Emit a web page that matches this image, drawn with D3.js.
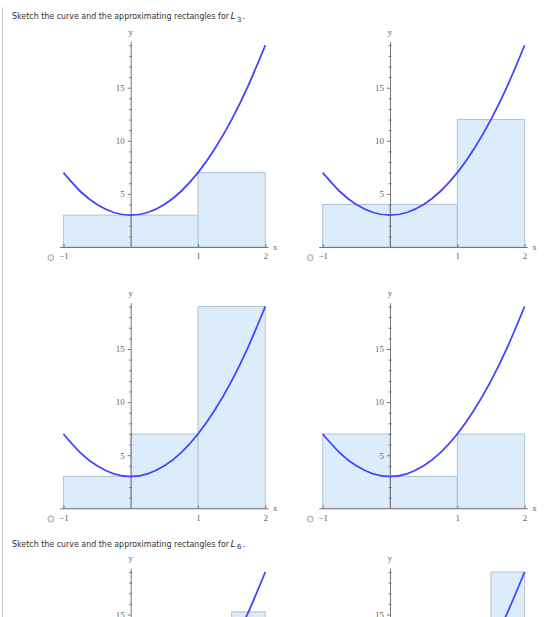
<!DOCTYPE html>
<html>
<head>
<meta charset="utf-8">
<script src="https://cdn.jsdelivr.net/npm/d3@7"></script>
<style>
  body { margin: 0; background: #fff; }
  svg { display: block; }
  .tick text { font-family: "Liberation Serif", "DejaVu Serif", serif; font-size: 9px; fill: #666; }
  .axis path, .axis line { stroke: #777; }
</style>
</head>
<body>
<svg id="chart"></svg>
<script>
// curve, x step 0.25
const curveX = [-1, -0.75, -0.5, -0.25, 0, 0.25, 0.5, 0.75, 1, 1.25, 1.5, 1.75, 2];
const curveY = [7, 5.25, 4, 3.25, 3, 3.25, 4, 5.25, 7, 9.25, 12, 15.25, 19];

const xTicks = [-1, 1, 2];
const yTicks = [5, 10, 15];
const yMinor = [1, 2, 3, 4, 6, 7, 8, 9, 11, 12, 13, 14, 16, 17, 18, 19];

// L3 : 3 rectangles
const edges3 = [-1, 0, 1, 2];
const heightsA = [3, 3, 7];
const heightsB = [4, 4, 12];
const heightsC = [3, 7, 19];
const heightsD = [7, 3, 7];

// L6 : 6 rectangles (only the tops show)
const edges6 = [-1, -0.5, 0, 0.5, 1, 1.5, 2];
const heightsE = [5.25, 3.25, 3.25, 5.25, 9.25, 15.25];
const heightsF = [4, 3, 4, 7, 12, 19];

const headers = [
  { y: 19, sub: "3" },
  { y: 546.5, sub: "6" }
];

const WIDTH = 550, HEIGHT = 617;
const UX = 67.3;     // px per x unit
const UY = 10.62;    // px per y unit
const COLS = [130.7, 390];
const panels = [
  { col: 0, y0: 247, edges: edges3, h: heightsA },
  { col: 1, y0: 247, edges: edges3, h: heightsB },
  { col: 0, y0: 508.3, edges: edges3, h: heightsC },
  { col: 1, y0: 508.3, edges: edges3, h: heightsD },
  { col: 0, y0: 773.8, edges: edges6, h: heightsE },
  { col: 1, y0: 773.8, edges: edges6, h: heightsF }
];

const svg = d3.select("#chart")
  .attr("width", WIDTH)
  .attr("height", HEIGHT);

// left border of the page block
svg.append("line")
  .attr("x1", 2.5).attr("x2", 2.5)
  .attr("y1", 7).attr("y2", HEIGHT)
  .style("stroke", "#cfcfcf");

for (const hd of headers) {
  const t = svg.append("text")
    .attr("x", 12).attr("y", hd.y)
    .style("font-family", "'DejaVu Sans', Verdana, sans-serif")
    .style("font-size", "9.5px")
    .style("fill", "#333");
  t.append("tspan")
    .attr("textLength", 217).attr("lengthAdjust", "spacingAndGlyphs")
    .text("Sketch the curve and the approximating rectangles for");
  t.append("tspan")
    .attr("x", 230.5)
    .style("font-style", "italic")
    .text("L");
  t.append("tspan")
    .attr("dx", 1.2)
    .attr("dy", 2.5)
    .style("font-size", "7px")
    .text(hd.sub);
  t.append("tspan")
    .attr("dx", 0.8)
    .attr("dy", -2.5)
    .text(".");
}

const pts = curveX.map((x, i) => [x, curveY[i]]);

for (const p of panels) {
  const x0 = COLS[p.col];
  const xScale = d3.scaleLinear()
    .domain([-1.06, 2.04])
    .range([x0 - 1.06 * UX, x0 + 2.04 * UX]);
  const yScale = d3.scaleLinear()
    .domain([0, 19.35])
    .range([p.y0, p.y0 - 19.35 * UY]);

  const g = svg.append("g");

  // rectangles
  const rects = p.h.map((h, i) => ({ a: p.edges[i], b: p.edges[i + 1], h }));
  g.selectAll(".bar")
    .data(rects)
    .enter()
    .append("rect")
    .attr("class", "bar")
    .attr("x", d => xScale(d.a))
    .attr("y", d => yScale(d.h))
    .attr("width", d => xScale(d.b) - xScale(d.a))
    .attr("height", d => yScale(0) - yScale(d.h))
    .style("fill", "#ddecfb")
    .style("stroke", "#b2c3d4")
    .style("stroke-width", 1);

  // x axis
  const xAxis = d3.axisBottom(xScale)
    .tickValues(xTicks)
    .tickFormat(d => d < 0 ? "\u2212" + Math.abs(d) : d)
    .tickSizeInner(-3)
    .tickSizeOuter(0)
    .tickPadding(6);
  g.append("g")
    .attr("class", "axis")
    .attr("transform", `translate(0,${yScale(0)})`)
    .call(xAxis);

  // y axis, minor ticks
  const yMinorAxis = d3.axisLeft(yScale)
    .tickValues(yMinor)
    .tickFormat("")
    .tickSizeInner(1.5)
    .tickSizeOuter(0);
  g.append("g")
    .attr("class", "axis")
    .attr("transform", `translate(${xScale(0)},0)`)
    .call(yMinorAxis)
    .selectAll(".tick line").attr("x2", -1.5).attr("x1", 1.5);

  // y axis, major ticks
  const yAxis = d3.axisLeft(yScale)
    .tickValues(yTicks)
    .tickSizeInner(3)
    .tickSizeOuter(0)
    .tickPadding(3);
  g.append("g")
    .attr("class", "axis")
    .attr("transform", `translate(${xScale(0)},0)`)
    .call(yAxis)
    .select(".domain").remove();

  // axis names
  g.append("text")
    .attr("x", xScale(2.04) + 5)
    .attr("y", yScale(0) + 3)
    .style("font-family", "'Liberation Serif', serif")
    .style("font-size", "9px")
    .style("fill", "#666")
    .text("x");
  g.append("text")
    .attr("x", xScale(0))
    .attr("y", yScale(19.35) - 7)
    .attr("text-anchor", "middle")
    .style("font-family", "'Liberation Serif', serif")
    .style("font-size", "9px")
    .style("fill", "#666")
    .text("y");

  // curve
  g.append("path")
    .datum(pts)
    .attr("d", d3.line()
      .x(d => xScale(d[0]))
      .y(d => yScale(d[1]))
      .curve(d3.curveNatural))
    .style("fill", "none")
    .style("stroke", "#4545ff")
    .style("stroke-width", 1.8);

  // radio button
  g.append("circle")
    .attr("cx", xScale(-1) - 12.5)
    .attr("cy", yScale(0) + 10.7)
    .attr("r", 3)
    .style("fill", "#eee")
    .style("stroke", "#aaa")
    .style("stroke-width", 1);
}

// labels of the lower section that sit below the window are never seen
svg.selectAll("text").filter(function () {
  const b = this.getBoundingClientRect();
  return b.top > HEIGHT;
}).remove();
</script>
</body>
</html>
